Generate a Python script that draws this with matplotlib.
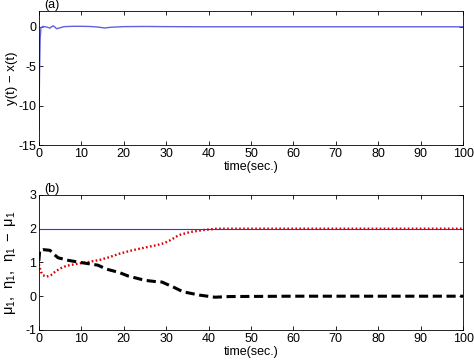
import numpy as np
import matplotlib
matplotlib.use("Agg")
import matplotlib.pyplot as plt

plt.rcParams['font.family'] = ['Liberation Sans', 'DejaVu Sans']
plt.rcParams['mathtext.fontset'] = 'custom'
plt.rcParams['mathtext.rm'] = 'Liberation Sans'
plt.rcParams['mathtext.it'] = 'Liberation Sans'
plt.rcParams['font.size'] = 9
plt.rcParams['axes.unicode_minus'] = False

# (a) error y(t) - x(t)
t_err = [0, 0.15, 0.3, 0.5, 1, 1.5, 2, 2.6, 3.0, 3.4, 3.8, 4.2, 5, 6, 8, 10, 12, 14, 15.5, 17, 20, 25, 30, 40, 60, 100]
err = [-13, -6, -1.5, -0.1, 0.05, 0.0, -0.05, -0.17, 0.0, 0.12, -0.05, -0.25, -0.12, 0.02, 0.06, 0.06, 0.04, -0.04, -0.15, -0.06, 0.02, 0.04, 0.02, 0.0, 0.0, 0.0]

# (b) mu_1, eta_1, eta_1 - mu_1
t_b = [0, 100]
mu1 = [2, 2]

t_eta = [0, 0.5, 1, 1.8, 2.8, 3.8, 5, 6.5, 9, 12, 14.5, 16.7, 19, 22, 25, 27.7, 29.5, 31, 33, 35.6, 38.7, 42, 50, 60, 70, 80, 90, 100]
eta1 = [0.95, 0.72, 0.62, 0.58, 0.62, 0.72, 0.82, 0.9, 0.96, 1.02, 1.08, 1.16, 1.26, 1.36, 1.44, 1.51, 1.57, 1.66, 1.81, 1.9, 1.96, 2.0, 2.0, 2.0, 2.0, 2.0, 2.0, 2.0]

t_diff = [0, 0.2, 1, 2.6, 3.5, 4.5, 7, 10.8, 13.9, 16, 19, 21, 25, 27.7, 29, 31.7, 34, 38, 41.5, 45, 60, 80, 100]
diff = [1.05, 1.36, 1.38, 1.36, 1.25, 1.14, 1.06, 0.98, 0.92, 0.8, 0.7, 0.6, 0.47, 0.43, 0.42, 0.27, 0.13, 0.03, -0.03, -0.01, 0.0, 0.0, 0.0]

fig = plt.figure(figsize=(4.74, 3.61), dpi=100)
ax1 = fig.add_axes([0.082, 0.598, 0.895, 0.3715])
ax2 = fig.add_axes([0.082, 0.086, 0.895, 0.374])

ax1.plot(t_err, err, color='#6060e0', lw=1.0)
ax1.set_xlim(0, 100)
ax1.set_ylim(-15, 2)
ax1.set_yticks([-15, -10, -5, 0])
ax1.set_ylabel('y(t) \u2212 x(t)', fontsize=9.5)
ax1.yaxis.set_label_coords(-0.05, 0.5)
ax1.set_xlabel('time(sec.)', labelpad=1)
ax1.text(0.012, 1.0, '(a)', transform=ax1.transAxes, va='bottom', ha='left')

ax2.plot(t_b, mu1, color='#3030ff', lw=0.8)
ax2.plot(t_eta, eta1, color='#dd0000', lw=1.7, ls=(0, (0.7, 1.0)))
ax2.plot(t_diff, diff, color='black', lw=2.2, ls=(0, (3.0, 1.5)))
ax2.set_xlim(0, 100)
ax2.set_ylim(-1, 3)
ax2.set_yticks([-1, 0, 1, 2, 3])
ax2.set_ylabel(r'$\mu_1$,  $\eta_1$,  $\eta_1\ -\ \mu_1$', fontsize=10.5)
ax2.yaxis.set_label_coords(-0.05, 0.5)
ax2.set_xlabel('time(sec.)', labelpad=1)
ax2.text(0.012, 1.0, '(b)', transform=ax2.transAxes, va='bottom', ha='left')

for ax in (ax1, ax2):
    ax.set_xticks(np.arange(0, 101, 10))
    ax.tick_params(direction='in', top=True, right=True, length=3, width=0.6, pad=2)
    for s in ax.spines.values():
        s.set_linewidth(0.6)

fig.savefig('out.png', dpi=100)
